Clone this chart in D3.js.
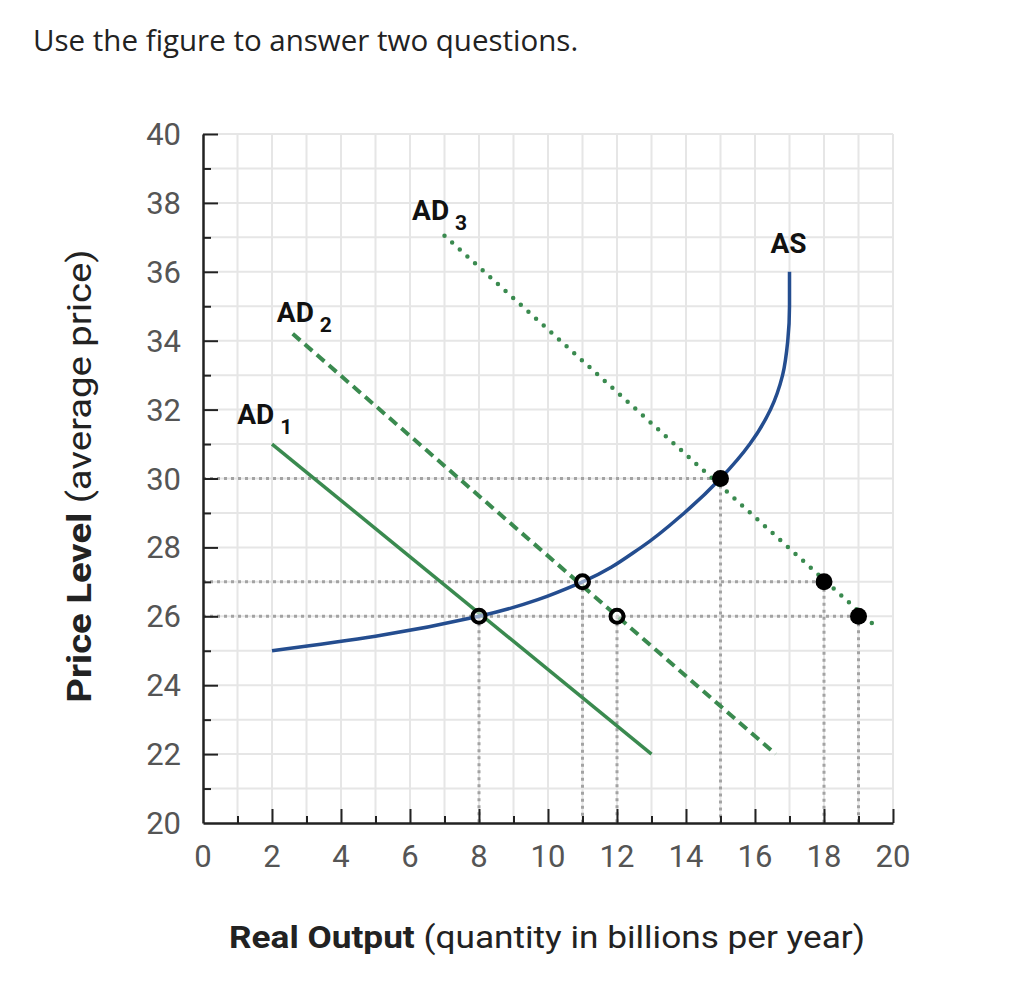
<!DOCTYPE html>
<html>
<head>
<meta charset="utf-8">
<script src="https://cdn.jsdelivr.net/npm/d3@7"></script>
<style>
  body { margin: 0; background: #fff; }
  svg { display: block; }
</style>
</head>
<body>
<div id="chart"></div>
<script>
// axis ticks
var xTicks = [0, 2, 4, 6, 8, 10, 12, 14, 16, 18, 20];
var yTicks = [20, 22, 24, 26, 28, 30, 32, 34, 36, 38, 40];

// curves (x = real output, y = price level)
var asCurve = [[2, 25], [5, 25.42], [8, 26], [11, 27], [12.7, 28], [13.95, 29], [15, 30], [15.85, 31], [16.45, 32], [16.8, 33], [16.95, 34], [17, 35], [17, 36]];
var ad1 = [[2, 31], [13, 22]];
var ad2 = [[2.6, 34.2], [16.6, 22]];
var ad3 = [[7, 37.05], [19.5, 25.7]];

// equilibrium points
var filledPts = [[15, 30], [18, 27], [19, 26]];
var hollowPts = [[8, 26], [11, 27], [12, 26]];

// dotted guide lines
var hGuides = [[26, 19], [27, 18], [30, 15]];   // [price, up to output]
var vGuides = [[8, 26], [11, 27], [12, 26], [15, 30], [18, 27], [19, 26]];

// curve labels
var curveLabels = [
  { name: "AD", sub: "1", x: 0.99, y: 31.58 },
  { name: "AD", sub: "2", x: 2.14, y: 34.54 },
  { name: "AD", sub: "3", x: 6.06, y: 37.5 },
  { name: "AS", sub: "",  x: 16.45, y: 36.55 }
];

var width = 1014, height = 998;
var svg = d3.select("#chart").append("svg")
    .attr("width", width)
    .attr("height", height);

var x = d3.scaleLinear().domain([0, 20]).range([203, 893]);
var y = d3.scaleLinear().domain([20, 40]).range([823, 134]);

var green = "#3a8a4f", blue = "#244d8f", guide = "#a3a3a3";

// title
svg.append("text")
   .attr("x", 33).attr("y", 51)
   .style("font-family", "'Open Sans', Lato, sans-serif")
   .style("font-size", "29.5px")
   .attr("fill", "#222")
   .text("Use the figure to answer two questions.");

// grid
var grid = svg.append("g").attr("stroke", "#e6e6e6").attr("stroke-width", 2);
grid.selectAll(".gx").data(d3.range(1, 21)).join("line")
    .attr("x1", d => x(d)).attr("x2", d => x(d))
    .attr("y1", y(20)).attr("y2", y(40));
grid.selectAll(".gy").data(d3.range(21, 41)).join("line")
    .attr("x1", x(0)).attr("x2", x(20))
    .attr("y1", d => y(d)).attr("y2", d => y(d));

// dotted guides
var guides = svg.append("g")
    .attr("stroke", guide).attr("stroke-width", 3)
    .attr("stroke-dasharray", "3 4");
guides.selectAll(".hg").data(hGuides).join("line")
    .attr("x1", x(0)).attr("x2", d => x(d[1]))
    .attr("y1", d => y(d[0])).attr("y2", d => y(d[0]));
guides.selectAll(".vg").data(vGuides).join("line")
    .attr("x1", d => x(d[0])).attr("x2", d => x(d[0]))
    .attr("y1", d => y(d[1])).attr("y2", y(20));

// axes
var xAxis = d3.axisTop(x).tickValues(d3.range(0, 21)).tickSize(0).tickFormat("");
var yAxis = d3.axisRight(y).tickValues(d3.range(20, 41)).tickSize(0).tickFormat("");

var gx = svg.append("g").attr("transform", `translate(0, ${y(20)})`).call(xAxis);
gx.selectAll(".tick line")
  .attr("y2", d => d === 0 ? 0 : (d % 2 === 0 ? -14 : -7))
  .attr("stroke", "#222").attr("stroke-width", 2);
gx.select(".domain").attr("stroke", "#222").attr("stroke-width", 2.5);

var gy = svg.append("g").attr("transform", `translate(${x(0)}, 0)`).call(yAxis);
gy.selectAll(".tick line")
  .attr("x2", d => d === 20 ? 0 : (d % 2 === 0 ? 15 : 8))
  .attr("stroke", "#222").attr("stroke-width", 2);
gy.select(".domain").attr("stroke", "#222").attr("stroke-width", 2.5);

// tick labels
svg.append("g").selectAll("text").data(xTicks).join("text")
   .attr("x", d => x(d)).attr("y", 867)
   .attr("text-anchor", "middle")
   .style("font-family", "Roboto, sans-serif").style("font-size", "31px")
   .attr("fill", "#555")
   .text(d => d);
svg.append("g").selectAll("text").data(yTicks).join("text")
   .attr("x", 181).attr("y", d => y(d) + 11)
   .attr("text-anchor", "end")
   .style("font-family", "Roboto, sans-serif").style("font-size", "31px")
   .attr("fill", "#555")
   .text(d => d);

// axis titles
var xt = svg.append("text")
   .attr("transform", "translate(547, 948) scale(1.1, 1)")
   .attr("text-anchor", "middle")
   .style("font-family", "Roboto, sans-serif").style("font-size", "32px")
   .attr("fill", "#222");
xt.append("tspan").attr("font-weight", "bold").text("Real Output");
xt.append("tspan").text(" (quantity in billions per year)");

var yt = svg.append("text")
   .attr("transform", "translate(91, 476) rotate(-90) scale(1.16, 1)")
   .attr("text-anchor", "middle")
   .style("font-family", "Roboto, sans-serif").style("font-size", "33px")
   .attr("fill", "#222");
yt.append("tspan").attr("font-weight", "bold").text("Price Level");
yt.append("tspan").text(" (average price)");

// curves
var line = d3.line().x(d => x(d[0])).y(d => y(d[1]));
var curveLine = d3.line().x(d => x(d[0])).y(d => y(d[1])).curve(d3.curveMonotoneY);

svg.append("path").attr("d", line(ad1))
   .attr("fill", "none").attr("stroke", green).attr("stroke-width", 3.5);
svg.append("path").attr("d", line(ad2))
   .attr("fill", "none").attr("stroke", green).attr("stroke-width", 4)
   .attr("stroke-dasharray", "10 6");
svg.append("path").attr("d", line(ad3))
   .attr("fill", "none").attr("stroke", green).attr("stroke-width", 4.5)
   .attr("stroke-linecap", "round").attr("stroke-dasharray", "0 10.3");
svg.append("path").attr("d", curveLine(asCurve))
   .attr("fill", "none").attr("stroke", blue).attr("stroke-width", 3.5);

// points
svg.append("g").selectAll("circle").data(hollowPts).join("circle")
   .attr("cx", d => x(d[0])).attr("cy", d => y(d[1]))
   .attr("r", 6.5)
   .attr("fill", "#fff").attr("fill-opacity", 0.5)
   .attr("stroke", "#000").attr("stroke-width", 4);
svg.append("g").selectAll("circle").data(filledPts).join("circle")
   .attr("cx", d => x(d[0])).attr("cy", d => y(d[1]))
   .attr("r", 8.5)
   .attr("fill", "#000");

// labels
var lbl = svg.append("g").selectAll("text").data(curveLabels).join("text")
   .attr("x", d => x(d.x)).attr("y", d => y(d.y))
   .style("font-family", "Roboto, sans-serif")
   .attr("font-weight", "bold")
   .attr("fill", "#111");
lbl.append("tspan").style("font-size", "28px").text(d => d.name);
lbl.append("tspan").style("font-size", "21px")
   .attr("dx", 6).attr("dy", 10)
   .text(d => d.sub);
</script>
</body>
</html>
